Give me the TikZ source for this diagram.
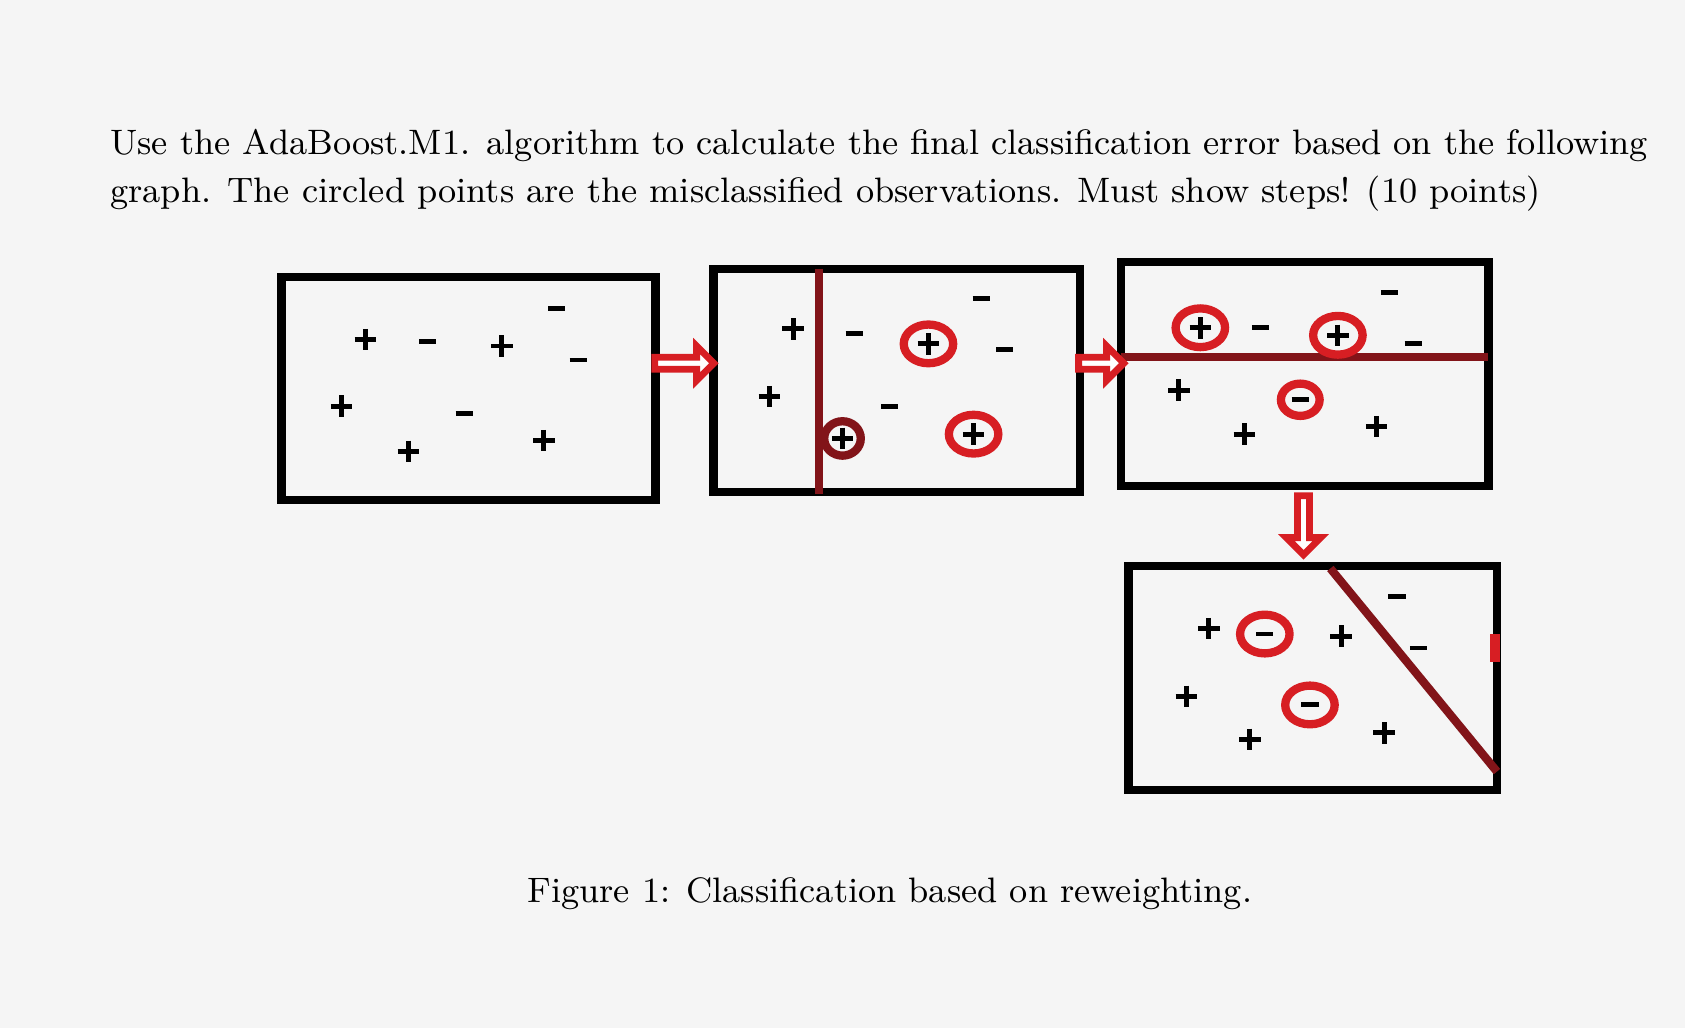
\documentclass[tikz,border=0pt]{standalone}
\usetikzlibrary{shapes.geometric,shapes.arrows}
\definecolor{dred}{RGB}{130,20,25}
\definecolor{rred}{RGB}{215,30,35}
\begin{document}
\begin{tikzpicture}[x=0.01cm,y=-0.01cm,
 panel/.style={draw=black,line width=2.2pt},
 cpt/.style={ellipse,draw=rred,line width=2.2pt,minimum width=0.46cm,minimum height=0.36cm,inner sep=0pt},
 harrow/.style={single arrow,draw=rred,line width=1.8pt,fill=white,minimum height=0.55cm,minimum width=0.32cm,single arrow head extend=0.06cm,inner sep=0pt},
 sep/.style={draw=dred,line width=2.2pt},
 txt/.style={font=\fontsize{9.35}{12}\selectfont,anchor=west,inner sep=0pt},
 plus/.pic={\draw[line width=1.3pt] (-10,0) -- (10,0) (0,-10) -- (0,10);},
 minus/.pic={\draw[line width=1.3pt] (-8,0) -- (8,0);}]
\fill[gray!8] (0,0) rectangle (1568,957);
\useasboundingbox (0,0) rectangle (1568,957);
\node[txt] (t1) at (102,135) {Use the AdaBoost.M1. algorithm to calculate the final classification error based on the following};
\node[txt] (t2) at (102,180) {graph. The circled points are the misclassified observations. Must show steps! (10 points)};
\draw[panel] (262,258) rectangle (610,465);
\draw[panel] (664,250) rectangle (1005,458);
\draw[panel] (1043,244) rectangle (1385,452);
\draw[panel] (1050,527) rectangle (1393,735);
\draw[sep] (762,250) -- (762,460);
\draw[sep] (1043,332) -- (1385,332);
\coordinate (d1) at (1238,529); \coordinate (d2) at (1393,718);
\draw[sep] (d1) -- (d2);
\draw[rred,line width=2.5pt] (1391,590) -- (1391,616);
\node[harrow] (a1) at (634,338) {};
\node[harrow,minimum height=0.42cm] (a2) at (1022,338) {};
\node[harrow,rotate=-90] (a3) at (1213,486) {};
% panel 1
\pic at (340,316) {plus}; \pic at (398,318) {minus}; \pic at (467,322) {plus};
\pic at (518,287) {minus}; \pic at (538,335) {minus}; \pic at (318,378) {plus};
\pic at (432,385) {minus}; \pic at (380,420) {plus}; \pic at (506,410) {plus};
% panel 2
\pic at (738,306) {plus}; \pic at (795,310) {minus}; \node[cpt] (c1) at (864,320) {}; \pic at (864,320) {plus};
\pic at (913,278) {minus}; \pic at (935,325) {minus}; \pic at (716,369) {plus};
\pic at (828,378) {minus}; \node[cpt,draw=dred,minimum width=0.34cm,minimum height=0.32cm] (c2) at (784,408) {}; \pic at (784,408) {plus};
\node[cpt] (c3) at (906,404) {}; \pic at (906,404) {plus};
% panel 3
\node[cpt] (c4) at (1117,305) {}; \pic at (1117,305) {plus}; \pic at (1173,305) {minus};
\node[cpt] (c5) at (1245,312) {}; \pic at (1245,312) {plus};
\pic at (1293,272) {minus}; \pic at (1315,320) {minus}; \pic at (1097,363) {plus};
\node[cpt,minimum width=0.36cm,minimum height=0.3cm] (c6) at (1210,372) {}; \pic at (1210,372) {minus};
\pic at (1158,404) {plus}; \pic at (1281,397) {plus};
% panel 4
\pic at (1125,585) {plus}; \node[cpt] (c7) at (1177,590) {}; \pic at (1177,590) {minus}; \pic at (1248,592) {plus};
\pic at (1300,555) {minus}; \pic at (1320,603) {minus}; \pic at (1104,648) {plus};
\node[cpt] (c8) at (1219,656) {}; \pic at (1219,656) {minus}; \pic at (1163,688) {plus}; \pic at (1288,682) {plus};
\node[txt,anchor=center] (cap) at (828,832) {Figure 1: Classification based on reweighting.};
\end{tikzpicture}
\end{document}
